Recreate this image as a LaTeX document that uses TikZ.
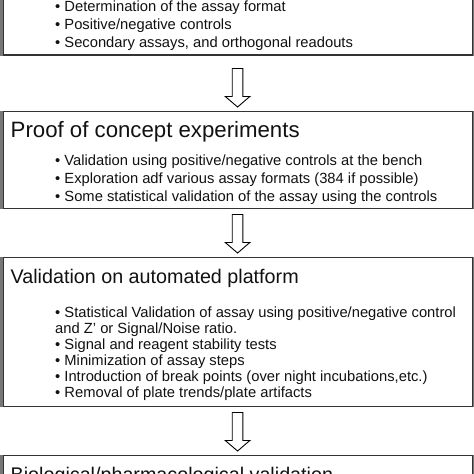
\documentclass[tikz,border=0pt]{standalone}
\usepackage{fontspec}
\setmainfont{Liberation Sans}
\usetikzlibrary{calc}
\definecolor{edge}{HTML}{333333}
\definecolor{sideedge}{HTML}{777777}
\definecolor{ink}{HTML}{111111}
\tikzset{
  stagebox/.style={draw=edge, line width=1.1bp, fill=white, rectangle, inner sep=0pt,
    minimum width=469bp, anchor=north west},
  titletext/.style={anchor=base west, inner sep=0pt, text=ink},
  itemtext/.style={anchor=base west, inner sep=0pt, text=ink, font=\fontsize{14.8}{16}\selectfont},
  blockarrow/.style={draw=black, line width=0.9bp, fill=white, line join=miter}
}
\newcommand{\blkarrow}[1]{%
  \draw[blockarrow] ($(#1.north)+(0,-4)$) -- ++(12.3,-10.5) -- ++(-7,0) -- ++(0,-28)
    -- ++(-10.6,0) -- ++(0,28) -- ++(-7,0) -- cycle;}
\newcommand{\sidebars}[1]{%
  \draw[sideedge, line width=2.2bp] ($(#1.north west)+(-1,0)$) -- ($(#1.south west)+(-1,0)$);
  \draw[sideedge, line width=2.2bp] ($(#1.north east)+(1,0)$) -- ($(#1.south east)+(1,0)$);}
\begin{document}
\begin{tikzpicture}[x=1bp, y=-1bp]
\useasboundingbox (0,0) rectangle (474,474);
\clip (0,0) rectangle (474,474);
% boxes
\node[stagebox, minimum height=84.5bp] (b1) at (2.5,-30) {};
\node[stagebox, minimum height=97bp] (b2) at (2.5,111) {};
\node[stagebox, minimum height=149bp] (b3) at (2.5,257) {};
\node[stagebox, minimum height=60bp] (b4) at (2.5,455) {};
\sidebars{b1}\sidebars{b2}\sidebars{b3}\sidebars{b4}
% arrows
\blkarrow{b2}
\blkarrow{b3}
\blkarrow{b4}
% box 1 text
\node[itemtext] (b1i1) at (55,11.7) {• Determination of the assay format};
\node[itemtext] (b1i2) at (55,29.3) {• Positive/negative controls};
\node[itemtext] (b1i3) at (55,47.7) {• Secondary assays, and orthogonal readouts};
% box 2 text
\node[titletext, font=\fontsize{22.3}{24}\selectfont] (b2t) at (10.5,137.7) {Proof of concept experiments};
\node[itemtext] (b2i1) at (55,166) {• Validation using positive/negative controls at the bench};
\node[itemtext] (b2i2) at (55,184) {• Exploration adf various assay formats (384 if possible)};
\node[itemtext] (b2i3) at (55,201.7) {• Some statistical validation of the assay using the controls};
% box 3 text
\node[titletext, font=\fontsize{19.8}{22}\selectfont] (b3t) at (10.5,283.3) {Validation on automated platform};
\node[itemtext] (b3i1) at (55,317.3) {• Statistical Validation of assay using positive/negative control};
\node[itemtext] (b3i1b) at (55,333.3) {and Z\symbol{39} or Signal/Noise ratio.};
\node[itemtext] (b3i2) at (55,349.3) {• Signal and reagent stability tests};
\node[itemtext] (b3i3) at (55,365.3) {• Minimization of assay steps};
\node[itemtext] (b3i4) at (55,381.3) {• Introduction of break points (over night incubations,etc.)};
\node[itemtext] (b3i5) at (55,397.3) {• Removal of plate trends/plate artifacts};
% box 4 text
\node[titletext, font=\fontsize{19.8}{22}\selectfont] (b4t) at (10.5,481) {Biological/pharmacological validation};
\end{tikzpicture}
\end{document}
